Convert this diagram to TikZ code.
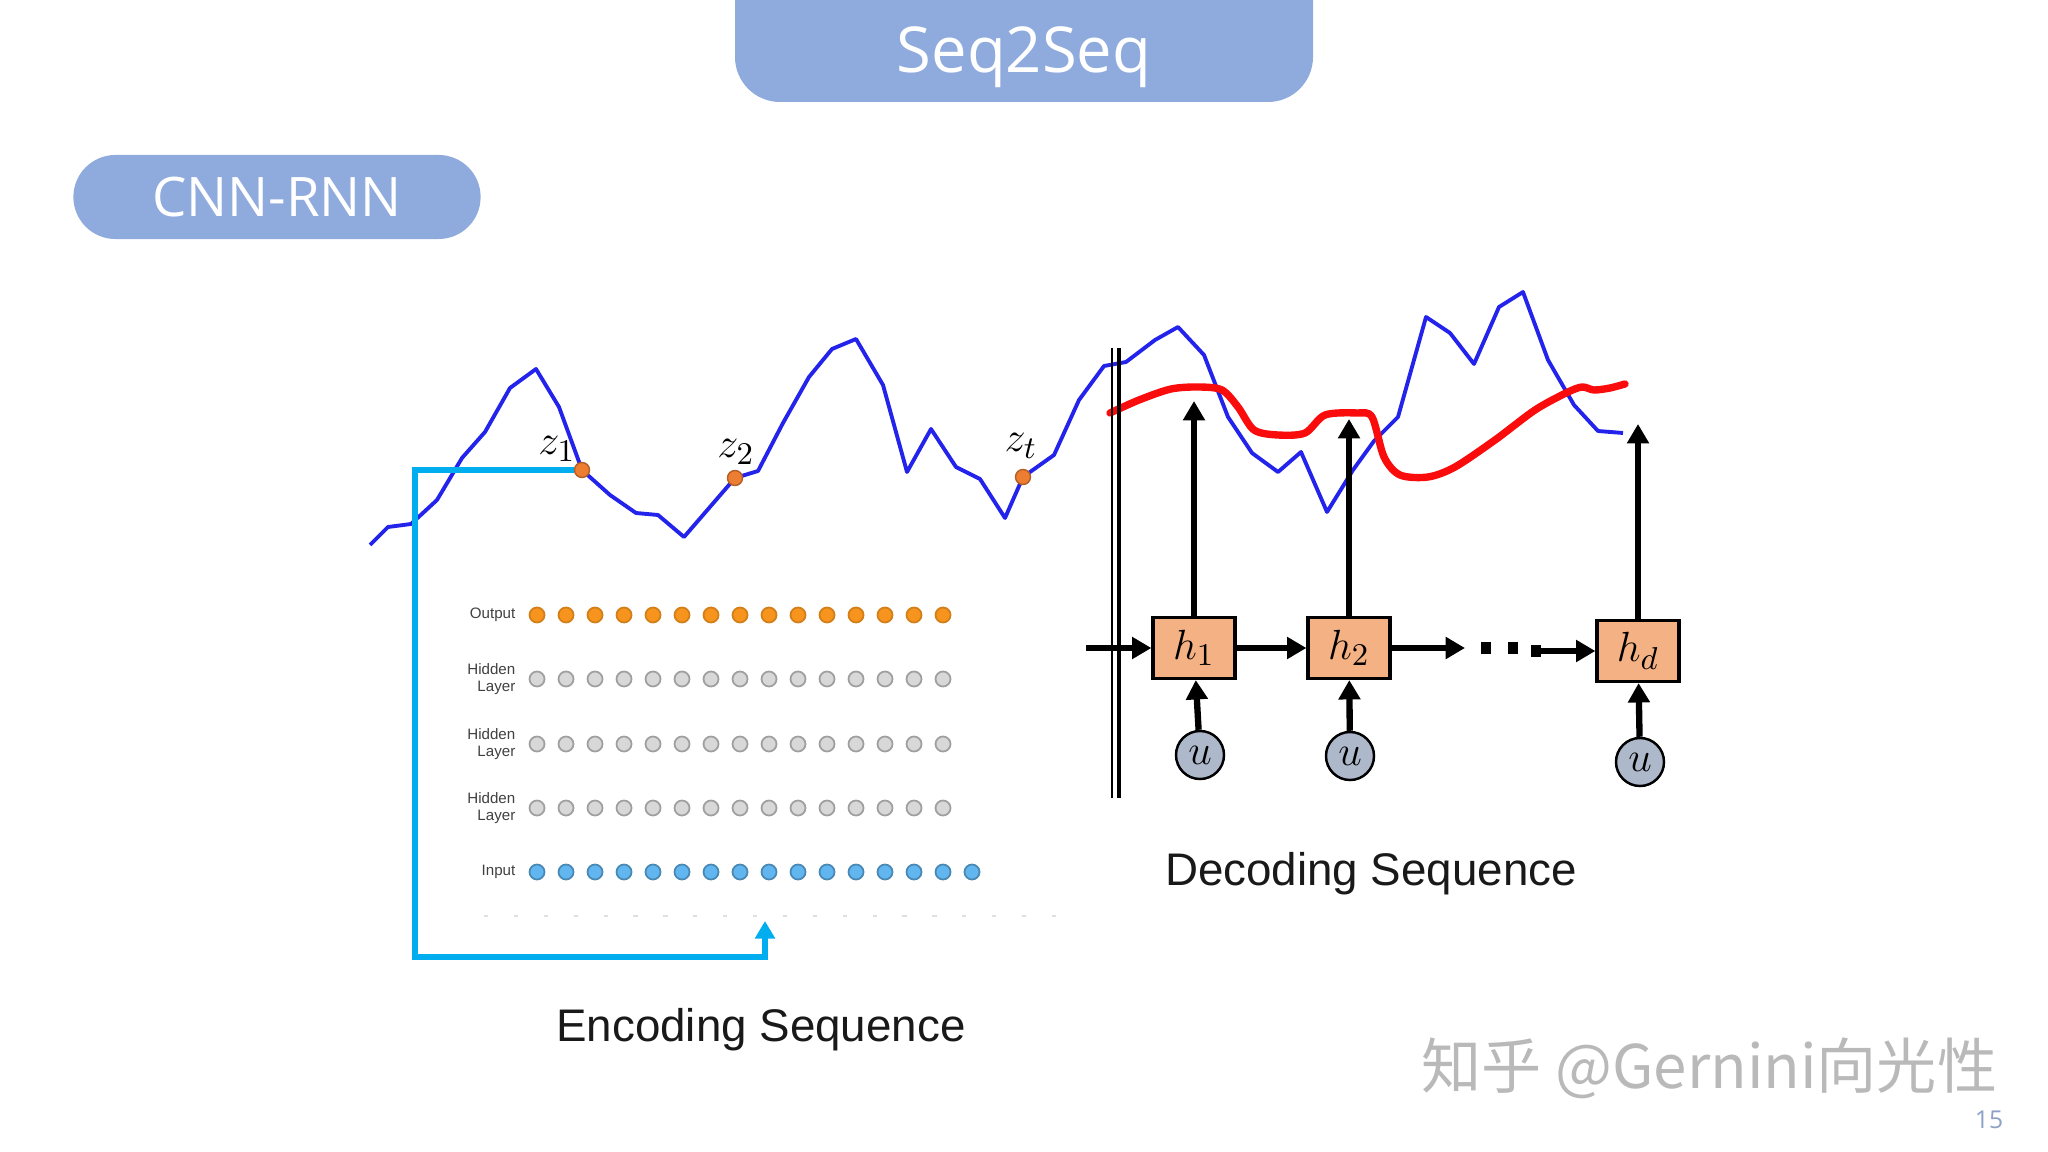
\documentclass[tikz,border=0pt]{standalone}
\usepackage{fontspec}
\setmainfont{Liberation Sans}
\newfontfamily\opensans{Open Sans}
\newfontfamily\cjk{Noto Sans CJK SC}
\usepackage{tikz}
\usetikzlibrary{arrows.meta, positioning, calc}

\definecolor{tabblue}{RGB}{143,170,220}
\definecolor{curveblue}{RGB}{35,35,235}
\definecolor{curvered}{RGB}{250,12,12}
\definecolor{encyan}{RGB}{0,174,239}
\definecolor{zorange}{RGB}{237,125,49}
\definecolor{outorange}{RGB}{247,148,30}
\definecolor{hidgray}{RGB}{216,216,216}
\definecolor{inblue}{RGB}{98,182,240}
\definecolor{hfill}{RGB}{244,177,131}
\definecolor{ufill}{RGB}{173,185,202}
\definecolor{pagenum}{RGB}{140,160,200}

\begin{document}
\begin{tikzpicture}[x=0.01cm, y=-0.01cm,
  tabbox/.style={fill=tabblue, rounded corners=0.42cm, text=white, font=\opensans\fontsize{15.5}{18}\selectfont},
  netdot/.style={circle, inner sep=0pt, minimum size=0.15cm, line width=0.5pt},
  outdot/.style={netdot, fill=outorange, draw=outorange!85!black},
  hiddot/.style={netdot, fill=hidgray, draw=gray!75},
  indot/.style={netdot, fill=inblue, draw=inblue!75!black},
  netlabel/.style={anchor=east, align=right, text=black!75, inner sep=0pt, font=\fontsize{4.3}{5}\selectfont},
  zdot/.style={circle, inner sep=0pt, minimum size=0.15cm, fill=zorange, draw=zorange!75!black, line width=0.4pt},
  zlabel/.style={inner sep=0pt, font=\fontsize{13}{15}\selectfont},
  hbox/.style={draw, line width=0.9pt, fill=hfill, minimum width=0.82cm, minimum height=0.61cm, inner sep=0pt, font=\fontsize{13}{15}\selectfont},
  ucirc/.style={circle, draw, line width=0.7pt, fill=ufill, minimum size=0.48cm, inner sep=0pt, font=\fontsize{13}{15}\selectfont},
  decarrow/.style={line width=1.8pt, -{Triangle[length=5.5pt, width=6pt]}},
  encline/.style={encyan, line width=1.8pt, -{Triangle[length=5pt, width=5.5pt]}},
  sqdot/.style={fill, inner sep=0pt, minimum width=0.1cm, minimum height=0.11cm},
  caption/.style={text=black!90, font=\fontsize{13}{15}\selectfont}]

  \useasboundingbox (0,0) rectangle (2048,1152);
  \clip (0,0) rectangle (2048,1152);

  % title tabs
  \fill[tabblue, rounded corners=0.45cm] (735,-60) rectangle (1313,102);
  \node[text=white, font=\opensans\fontsize{18}{21}\selectfont] (title) at (1024,57) {Seq2Seq};
  \node[tabbox, minimum width=4.07cm, minimum height=0.84cm] (cnnrnn) at (277,197) {CNN-RNN};

  % time series
  \draw[curveblue, line width=1.1pt, line join=round]
    (370,545) -- (388,527) -- (411,524) -- (437,500) -- (462,458) -- (485,432)
    -- (510,388) -- (536,369) -- (559,407) -- (582,470) -- (610,495) -- (636,513)
    -- (658,515) -- (684,537) -- (735,478) -- (758,471) -- (783,423) -- (809,377)
    -- (832,349) -- (856,339) -- (883,385) -- (907,472) -- (931,429) -- (956,467)
    -- (980,479) -- (1005,518) -- (1023,477) -- (1054,455) -- (1079,400) -- (1104,366)
    -- (1126,362) -- (1155,340) -- (1178,327) -- (1204,355) -- (1228,417) -- (1252,453)
    -- (1278,472) -- (1301,452) -- (1327,512) -- (1353,470) -- (1374,441) -- (1398,417)
    -- (1426,317) -- (1450,333) -- (1474,364) -- (1499,307) -- (1523,292) -- (1548,360)
    -- (1574,405) -- (1598,431) -- (1623,433);
  \draw[curvered, line width=2.1pt, line cap=round] plot[smooth, tension=0.5] coordinates {
    (1110,413) (1139,400) (1171,389) (1199,387) (1222,390) (1238,407) (1254,430)
    (1278,435) (1305,433) (1325,415) (1357,413) (1372,417) (1384,457) (1400,475)
    (1428,477) (1455,467) (1495,440) (1535,410) (1566,393) (1582,387) (1594,390)
    (1610,388) (1625,384)};

  % split between encoder and decoder
  \draw[line width=0.5pt] (1112,348) -- (1112,798);
  \draw[line width=1.4pt] (1119,348) -- (1119,798);

  % encoder: network rows
  \foreach \i in {1,...,15} {
    \node[outdot] (out\i) at ({537+29*(\i-1)},615) {};
    \node[hiddot] (hida\i) at ({537+29*(\i-1)},679) {};
    \node[hiddot] (hidb\i) at ({537+29*(\i-1)},744) {};
    \node[hiddot] (hidc\i) at ({537+29*(\i-1)},808) {};
  }
  \foreach \i in {1,...,16}
    \node[indot] (in\i) at ({537+29*(\i-1)},872) {};
  \node[netlabel] (lout) at (516,615) {Output};
  \node[netlabel] (lhida) at (516,679) {Hidden\\Layer};
  \node[netlabel] (lhidb) at (516,744) {Hidden\\Layer};
  \node[netlabel] (lhidc) at (516,808) {Hidden\\Layer};
  \node[netlabel] (lin) at (516,872) {Input};
  \draw[gray!25, line width=0.6pt, dash pattern=on 1.2pt off 7.3pt] (484,916) -- (1066,916);

  % sampled points
  \node[zdot] (z1) at (582,470) {};
  \node[zdot] (z2) at (735,478) {};
  \node[zdot] (zt) at (1023,477) {};
  \node[zlabel] (lz1) at (557,449) {$z_1$};
  \node[zlabel] (lz2) at (736,452) {$z_2$};
  \node[zlabel] (lzt) at (1021,446) {$z_t$};

  % encoder input path
  \coordinate (encin) at (765,921);
  \coordinate (enccorner) at (415,957);
  \draw[encline, line join=miter] (z1.west) -| (enccorner) -| (encin);
  \node[caption] (enccap) at (761,1030) {Encoding Sequence};

  % decoder
  \node[hbox] (h1) at (1194,648) {$h_1$};
  \node[hbox] (h2) at (1349,648) {$h_2$};
  \node[hbox] (hd) at (1638,651) {$h_d$};
  \node[ucirc] (u1) at (1200,755) {$u$};
  \node[ucirc] (u2) at (1350,756) {$u$};
  \node[ucirc] (u3) at (1640,762) {$u$};
  \coordinate (hin) at (1086,648);
  \coordinate (gap1) at (1465,648);
  \node[sqdot] (dot1) at (1486,648) {};
  \node[sqdot] (dot2) at (1513,648) {};
  \node[sqdot] (dot3) at (1536,651) {};
  \coordinate (hout1) at (1194,401);
  \coordinate (hout2) at (1349,419);
  \coordinate (houtd) at (1638,424);

  \draw[decarrow] (hin) -- (h1);
  \draw[decarrow] (h1) -- (h2);
  \draw[decarrow] (h2) -- (gap1);
  \draw[decarrow] (dot3.center) -- (hd);
  \draw[decarrow] (u1) -- (h1);
  \draw[decarrow] (u2) -- (h2);
  \draw[decarrow] (u3) -- (hd);
  \draw[decarrow] (h1) -- (hout1);
  \draw[decarrow] (h2) -- (hout2);
  \draw[decarrow] (hd) -- (houtd);
  \node[caption] (deccap) at (1371,874) {Decoding Sequence};

  % watermark and page number
  \node[anchor=west, inner sep=0pt, text=gray!55, font=\cjk\fontsize{17.1}{20}\selectfont] (mark) at (1421,1068) {知乎 @Gernini向光性};
  \node[text=pagenum, font=\opensans\fontsize{7}{8}\selectfont] (pgnum) at (1989,1120) {15};
\end{tikzpicture}
\end{document}
